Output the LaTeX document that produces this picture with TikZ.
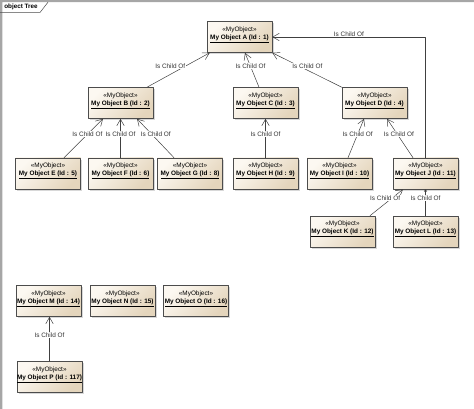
\documentclass[tikz,border=0pt]{standalone}
\usepackage{fontspec}
\setmainfont{Liberation Sans}
\usetikzlibrary{arrows.meta,shadows}
\definecolor{boxtop}{HTML}{FCF8F1}
\definecolor{boxbot}{HTML}{E4D5BC}
\definecolor{framegray}{HTML}{A6A6A6}
\newcommand\objtext[2]{«MyObject»\\\underline{\textbf{My Object #1 (Id : #2)}}\\\mbox{}}
\tikzset{
	obj/.style={draw=black!70, line width=.6pt, top color=boxtop, bottom color=boxbot, shading angle=45,
		minimum width=65pt, minimum height=31pt, inner sep=0pt, align=center,
		drop shadow={shadow xshift=1.6pt, shadow yshift=-1.6pt, fill=black!30}},
	child/.style={draw=black!75, line width=.5pt, -{Straight Barb[length=6.5pt,width=7.5pt]}},
	lbl/.style={fill=white, inner sep=.6pt, text=black!80}
}
\begin{document}
\begin{tikzpicture}[x=1pt, y=-1pt, font=\fontsize{6.4}{8}\selectfont, line join=round, line cap=round]
		\useasboundingbox (0,0) rectangle (474,409);
		% frame and tab
		\fill[framegray] (0,0) rectangle (474,2.2) (0,0) rectangle (2.4,409);
		\draw[black!70, line width=.5pt] (0,12.5) -- (40,12.5) -- (48,2.2);
		\node[font=\fontsize{6.3}{7}\selectfont\bfseries] (tab) at (21,7.2) {object Tree};
		% objects
		\foreach \n/\x/\y/\i in {A/239.5/37/1, B/120.5/103/2, C/265.5/103/3, D/374.5/103/4,
			E/48/173.5/5, F/120.5/173.5/6, G/190/173.5/8, H/265.5/173.5/9, I/339.5/173.5/10, J/425.5/173.5/11,
			K/342.5/231.5/12, L/425.5/231.5/13, M/48.5/301/14, N/122.5/301/15, O/196/301/16, P/49.5/377/117}
		\node[obj] (\n) at (\x,\y) {\objtext{\n}{\i}};
		% is child of
		\draw[child] ([xshift=26.5pt]B.north) -- node[lbl,pos=.61,xshift=-15pt] (ab) {Is Child Of} ([xshift=3pt]A.south west);
		\draw[child] ([xshift=-6.5pt]C.north) -- node[lbl,pos=.61] (ac) {Is Child Of} ([xshift=5.5pt]A.south);
		\draw[child] (D.north west) -- node[lbl,pos=.61,xshift=8pt] (ad) {Is Child Of} (A.south east);
		\draw[child] (J.north) |- node[lbl,pos=.75,above] (aj) {Is Child Of} (A.east);
		\draw[child] ([xshift=16pt]E.north) -- node[lbl,pos=.6] (be) {Is Child Of} ([xshift=-17.5pt]B.south);
		\draw[child] (F.north) -- node[lbl,pos=.6] (bf) {Is Child Of} (B.south);
		\draw[child] ([xshift=-16pt]G.north) -- node[lbl,pos=.6,xshift=4pt] (bg) {Is Child Of} ([xshift=16.5pt]B.south);
		\draw[child] (H.north) -- node[lbl,pos=.6] (ch) {Is Child Of} (C.south);
		\draw[child] ([xshift=8.5pt]I.north) -- node[lbl,pos=.6] (di) {Is Child Of} ([xshift=-10.5pt]D.south);
		\draw[child] ([xshift=-12.5pt]J.north) -- node[lbl,pos=.6,xshift=1.5pt] (dj) {Is Child Of} ([xshift=12.5pt]D.south);
		\draw[child] ([xshift=27.5pt]K.north) -- node[lbl,pos=.67,xshift=-7pt] (jk) {Is Child Of} ([xshift=-22.5pt]J.south);
		\draw[child, -{Straight Barb[length=2pt,width=3pt]}] (L.north) -- node[lbl,pos=.67] (jl) {Is Child Of} (J.south);
		\draw[child] (P.north) -- node[lbl,pos=.59] (mp) {Is Child Of} (P.north |- M.south);
\end{tikzpicture}
\end{document}
